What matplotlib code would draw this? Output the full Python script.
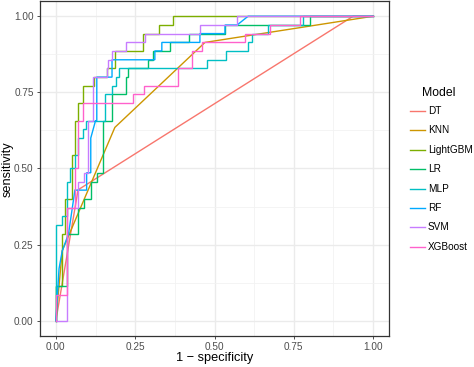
import matplotlib
matplotlib.use("Agg")
import matplotlib.pyplot as plt
from matplotlib.lines import Line2D

plt.rcParams['font.family'] = ['Liberation Sans', 'DejaVu Sans']

models = ["DT", "KNN", "LightGBM", "LR", "MLP", "RF", "SVM", "XGBoost"]
colors = ["#F8766D", "#CD9600", "#7CAE00", "#00BE67", "#00BFC4", "#00A9FF", "#C77CFF", "#FF61CC"]

dt_fpr = [0, 0.07, 0.937, 1]
dt_tpr = [0, 0.43, 1, 1]

knn_fpr = [0, 0.02, 0.186, 0.47, 1]
knn_tpr = [0, 0.23, 0.635, 0.914, 1]

lgbm_fpr = [0, 0, 0.02, 0.02, 0.03, 0.03, 0.05, 0.05, 0.06, 0.06, 0.069, 0.069, 0.085, 0.085,
            0.12, 0.12, 0.16, 0.16, 0.186, 0.186, 0.274, 0.274, 0.325, 0.325, 0.369, 0.369, 1]
lgbm_tpr = [0, 0.114, 0.114, 0.286, 0.286, 0.4, 0.4, 0.543, 0.543, 0.657, 0.657, 0.714, 0.714, 0.771,
            0.771, 0.8, 0.8, 0.829, 0.829, 0.886, 0.886, 0.943, 0.943, 0.971, 0.971, 1, 1]

lr_fpr = [0, 0, 0.035, 0.035, 0.07, 0.07, 0.09, 0.09, 0.11, 0.11, 0.13, 0.13, 0.148, 0.148,
          0.177, 0.177, 0.221, 0.221, 0.227, 0.227, 0.29, 0.29, 0.306, 0.306, 0.36, 0.36,
          0.42, 0.42, 0.533, 0.533, 0.80, 0.80, 1]
lr_tpr = [0, 0.114, 0.114, 0.286, 0.286, 0.371, 0.371, 0.4, 0.4, 0.457, 0.457, 0.486, 0.486, 0.657,
          0.657, 0.743, 0.743, 0.80, 0.80, 0.829, 0.829, 0.857, 0.857, 0.886, 0.886, 0.914,
          0.914, 0.943, 0.943, 0.971, 0.971, 1, 1]

mlp_fpr = [0, 0, 0.02, 0.02, 0.035, 0.035, 0.045, 0.045, 0.06, 0.06, 0.07, 0.07, 0.085, 0.085,
           0.095, 0.095, 0.155, 0.155, 0.177, 0.177, 0.19, 0.19, 0.2, 0.2, 0.476, 0.476,
           0.536, 0.536, 0.606, 0.606, 0.618, 0.618, 0.669, 0.669, 0.78, 0.78, 1]
mlp_tpr = [0, 0.314, 0.314, 0.343, 0.343, 0.457, 0.457, 0.5, 0.5, 0.543, 0.543, 0.6, 0.6, 0.629,
           0.629, 0.657, 0.657, 0.743, 0.743, 0.771, 0.771, 0.8, 0.8, 0.829, 0.829, 0.857,
           0.857, 0.886, 0.886, 0.914, 0.914, 0.943, 0.943, 0.971, 0.971, 1, 1]

rf_fpr = [0, 0.01, 0.02, 0.04, 0.06, 0.097, 0.097, 0.11, 0.11, 0.125, 0.129, 0.129, 0.177, 0.177,
          0.312, 0.312, 0.334, 0.334, 0.454, 0.454, 0.533, 0.533, 0.571, 0.606, 1]
rf_tpr = [0, 0.171, 0.229, 0.286, 0.429, 0.429, 0.486, 0.486, 0.6, 0.657, 0.657, 0.80, 0.80, 0.857,
          0.857, 0.886, 0.886, 0.914, 0.914, 0.943, 0.943, 0.971, 0.971, 1, 1]

svm_fpr = [0, 0.035, 0.035, 0.07, 0.07, 0.09, 0.09, 0.1, 0.1, 0.117, 0.117, 0.16, 0.16, 0.165,
           0.165, 0.178, 0.178, 0.22, 0.22, 0.28, 0.28, 0.454, 0.454, 0.571, 0.571, 1]
svm_tpr = [0, 0, 0.371, 0.371, 0.457, 0.457, 0.486, 0.486, 0.657, 0.657, 0.8, 0.8, 0.829, 0.829,
           0.857, 0.857, 0.886, 0.886, 0.914, 0.914, 0.943, 0.943, 0.971, 0.971, 1, 1]

xgb_fpr = [0, 0, 0.035, 0.035, 0.06, 0.06, 0.069, 0.069, 0.085, 0.085, 0.243, 0.243, 0.278, 0.278,
           0.385, 0.385, 0.429, 0.429, 0.46, 0.46, 0.596, 0.596, 0.675, 0.675, 0.77, 0.77, 1]
xgb_tpr = [0, 0.086, 0.086, 0.371, 0.371, 0.5, 0.5, 0.657, 0.657, 0.714, 0.714, 0.743, 0.743, 0.771,
           0.771, 0.829, 0.829, 0.886, 0.886, 0.914, 0.914, 0.943, 0.943, 0.971, 0.971, 1, 1]

curves = [(dt_fpr, dt_tpr), (knn_fpr, knn_tpr), (lgbm_fpr, lgbm_tpr), (lr_fpr, lr_tpr),
          (mlp_fpr, mlp_tpr), (rf_fpr, rf_tpr), (svm_fpr, svm_tpr), (xgb_fpr, xgb_tpr)]

ticks = [0.00, 0.25, 0.50, 0.75, 1.00]
tick_labels = ["0.00", "0.25", "0.50", "0.75", "1.00"]
minor_ticks = [0.125, 0.375, 0.625, 0.875]

W, H = 474, 367
fig = plt.figure(figsize=(W / 100, H / 100), dpi=100)
ax = fig.add_axes([40 / W, 1 - 336 / H, (389 - 40) / W, (336 - 1) / H])

for (fx, ty), c in zip(curves, colors):
    ax.plot(fx, ty, color=c, lw=1.0, solid_joinstyle='miter', zorder=3)

ax.set_xlim(-0.05, 1.05)
ax.set_ylim(-0.05, 1.05)
ax.set_xticks(ticks)
ax.set_xticklabels(tick_labels)
ax.set_yticks(ticks)
ax.set_yticklabels(tick_labels)
ax.set_xticks(minor_ticks, minor=True)
ax.set_yticks(minor_ticks, minor=True)
ax.grid(which='major', color='#EBEBEB', lw=1.0, zorder=0)
ax.grid(which='minor', color='#F2F2F2', lw=0.6, zorder=0)
ax.set_axisbelow(True)
ax.tick_params(which='major', length=2.5, width=0.6, color='#333333', labelsize=7.2,
               labelcolor='#4D4D4D', pad=2)
ax.tick_params(which='minor', length=0)
for s in ax.spines.values():
    s.set_color('#333333')
    s.set_linewidth(0.9)

fig.text(215 / W, 1 - 358 / H, "1 \u2212 specificity", ha='center', va='center', fontsize=9.2, color='black')
fig.text(8 / W, 1 - 169 / H, "sensitivity", ha='center', va='center', rotation=90, fontsize=9.2, color='black')

# legend
fig.text(422 / W, 1 - 93 / H, "Model", ha='left', va='center', fontsize=8.8, color='black')
for i, (m, c) in enumerate(zip(models, colors)):
    yc = 1 - (111 + i * 19.4) / H
    fig.add_artist(Line2D([410 / W, 425 / W], [yc, yc], color=c, lw=1.0, transform=fig.transFigure))
    fig.text(428 / W, yc, m, ha='left', va='center', fontsize=7.2, color='black')

fig.savefig("out.png", dpi=100)
